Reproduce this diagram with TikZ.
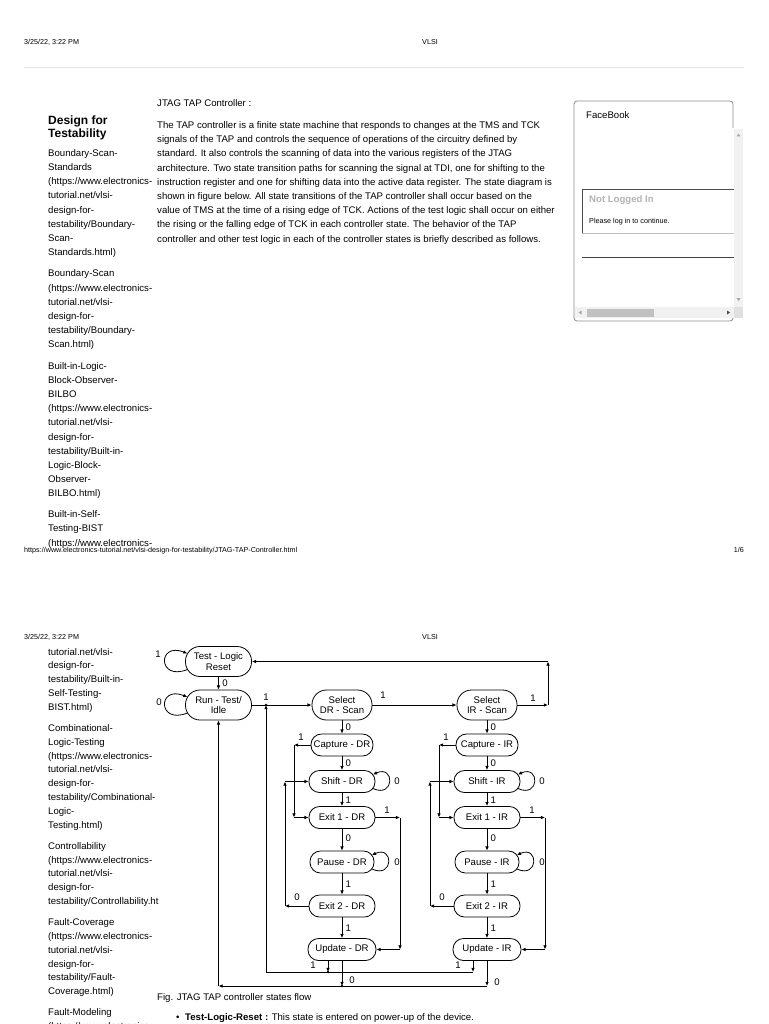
\documentclass[tikz,border=0pt]{standalone}
\usepackage{fontspec}
\setmainfont{Liberation Sans}
\usetikzlibrary{arrows.meta,positioning}
\definecolor{RuleGray}{HTML}{E6E6E6}
\definecolor{BoxGray}{HTML}{8C8C8C}
\definecolor{BarGray}{HTML}{F1F1F1}
\definecolor{ThumbGray}{HTML}{C1C1C1}
\definecolor{MutedGray}{HTML}{B3B3B3}

\newcommand\bodyfont{\fontsize{9.6}{14.2}\selectfont}
\newcommand\diagfont{\fontsize{9.6}{10.4}\selectfont}
\newcommand\printfont{\fontsize{7.2}{8}\selectfont}

\tikzset{
  sidetext/.style={anchor=base west, inner sep=0, font=\bodyfont},
  printtext/.style={anchor=base west, inner sep=0, font=\printfont},
  tapstate/.style={draw, line width=0.8pt, rounded corners=10.5pt, minimum height=22, inner sep=1, font=\diagfont},
  bigstate/.style={tapstate, rounded corners=14.5pt, minimum height=30, align=center},
  arr/.style={line width=0.8pt, -{Latex[length=4.2pt,width=3.6pt]}},
  wire/.style={line width=0.8pt},
  lbl/.style={font=\diagfont, inner sep=0},
}

\begin{document}
\begin{tikzpicture}[x=1pt, y=1pt]
  \useasboundingbox[fill=white] (0,0) rectangle (768,-1024);

  % page 1: print header
  \node[printtext] (date1) at (24,-44.5) {3/25/22, 3:22 PM};
  \node[printtext, anchor=base] (title1) at (430,-44.5) {VLSI};
  \draw[RuleGray, line width=0.8pt] (24,-67) -- (744,-67);

  % page 1: sidebar
  \node[sidetext, font=\bfseries\fontsize{12}{13.6}\selectfont] (dft1) at (48,-124.3) {Design for};
  \node[sidetext, font=\bfseries\fontsize{12}{13.6}\selectfont] (dft2) at (48,-138) {Testability};
  \foreach \txt [count=\i from 0] in {{Boundary-Scan-}, {Standards}, {(https://www.electronics-}, {tutorial.net/vlsi-}, {design-for-}, {testability/Boundary-}, {Scan-}, {Standards.html)}}
    \node[sidetext] (sba\i) at (48,-156.3-14.2*\i) {\txt};
  \foreach \txt [count=\i from 0] in {{Boundary-Scan}, {(https://www.electronics-}, {tutorial.net/vlsi-}, {design-for-}, {testability/Boundary-}, {Scan.html)}}
    \node[sidetext] (sbb\i) at (48,-276.9-14.2*\i) {\txt};
  \foreach \txt [count=\i from 0] in {{Built-in-Logic-}, {Block-Observer-}, {BILBO}, {(https://www.electronics-}, {tutorial.net/vlsi-}, {design-for-}, {testability/Built-in-}, {Logic-Block-}, {Observer-}, {BILBO.html)}}
    \node[sidetext] (sbc\i) at (48,-369.1-14.2*\i) {\txt};
  \foreach \txt [count=\i from 0] in {{Built-in-Self-}, {Testing-BIST}, {(https://www.electronics-}}
    \node[sidetext] (sbd\i) at (48,-517.6-14.2*\i) {\txt};

  % page 1: article text
  \node[sidetext] (jtag) at (157,-106.3) {JTAG TAP Controller :};
  \foreach \txt [count=\i from 0] in {
    {The TAP controller is a finite state machine that responds to changes at the TMS and TCK},
    {signals of the TAP and controls the sequence of operations of the circuitry defined by},
    {standard. It also controls the scanning of data into the various registers of the JTAG},
    {architecture. Two state transition paths for scanning the signal at TDI, one for shifting to the},
    {instruction register and one for shifting data into the active data register. The state diagram is},
    {shown in figure below. All state transitions of the TAP controller shall occur based on the},
    {value of TMS at the time of a rising edge of TCK. Actions of the test logic shall occur on either},
    {the rising or the falling edge of TCK in each controller state. The behavior of the TAP},
    {controller and other test logic in each of the controller states is briefly described as follows.}}
    \node[sidetext] (para\i) at (157,-128.5-14.2*\i) {\txt};

  % page 1: facebook widget
  \draw[BoxGray, line width=0.8pt, rounded corners=3pt] (733,-128) -- (733,-101) -- (574,-101) -- (574,-321) -- (733,-321) -- (733,-318);
  \node[sidetext] (fbtitle) at (586,-118.3) {FaceBook};
  \draw[line width=0.8pt, black!70] (735,-189) -- (582,-189) -- (582,-233);
  \draw[line width=0.6pt, black!25] (582,-233) -- (735,-233);
  \node[sidetext, font=\bfseries\bodyfont, text=MutedGray] (notlogged) at (589,-202.5) {Not Logged In};
  \node[printtext] (pleaselog) at (589,-223.5) {Please log in to continue.};
  \draw[line width=0.8pt, black!75] (582,-257) -- (735,-257);
  \fill[BarGray] (734,-129) rectangle (743,-307);
  \fill[BarGray] (575,-307) rectangle (734,-318);
  \fill[black!12] (734,-307) rectangle (743,-318);
  \fill[ThumbGray] (587,-308.5) rectangle (654,-316.5);
  \fill[black!35] (736.5,-136.5) -- (740.5,-136.5) -- (738.5,-133.5) -- cycle;
  \fill[black!35] (736.5,-298) -- (740.5,-298) -- (738.5,-301) -- cycle;
  \fill[black!35] (581.5,-310.5) -- (581.5,-314.5) -- (578.5,-312.5) -- cycle;
  \fill[black!70] (727,-310.5) -- (727,-314.5) -- (730,-312.5) -- cycle;

  % page 1: print footer
  \node[printtext] (url1) at (24,-552) {https://www.electronics-tutorial.net/vlsi-design-for-testability/JTAG-TAP-Controller.html};
  \node[printtext, anchor=base east] (pg1) at (744,-552) {1/6};

  % page 2: print header
  \node[printtext] (date2) at (24,-639.5) {3/25/22, 3:22 PM};
  \node[printtext, anchor=base] (title2) at (430,-639.5) {VLSI};

  % page 2: sidebar
  \foreach \txt [count=\i from 0] in {{tutorial.net/vlsi-}, {design-for-}, {testability/Built-in-}, {Self-Testing-}, {BIST.html)}}
    \node[sidetext] (sbe\i) at (48,-655-13.9*\i) {\txt};
  \foreach \txt [count=\i from 0] in {{Combinational-}, {Logic-Testing}, {(https://www.electronics-}, {tutorial.net/vlsi-}, {design-for-}, {testability/Combinational-}, {Logic-}, {Testing.html)}}
    \node[sidetext] (sbf\i) at (48,-731.2-13.9*\i) {\txt};
  \foreach \txt [count=\i from 0] in {{Controllability}, {(https://www.electronics-}, {tutorial.net/vlsi-}, {design-for-}, {testability/Controllability.ht}}
    \node[sidetext] (sbg\i) at (48,-849.1-13.9*\i) {\txt};
  \foreach \txt [count=\i from 0] in {{Fault-Coverage}, {(https://www.electronics-}, {tutorial.net/vlsi-}, {design-for-}, {testability/Fault-}, {Coverage.html)}}
    \node[sidetext] (sbh\i) at (48,-925.3-13.9*\i) {\txt};
  \foreach \txt [count=\i from 0] in {{Fault-Modeling}, {(https://www.electronics-}}
    \node[sidetext] (sbk\i) at (48,-1015.4-13.9*\i) {\txt};

  % page 2: TAP state diagram
  \node[bigstate, minimum width=66] (tlr) at (218.5,-661.5) {Test - Logic\\Reset};
  \node[bigstate, minimum width=66] (rti) at (218.5,-705) {Run - Test/\\Idle};
  \node[bigstate, minimum width=60] (seldr) at (342,-705) {Select\\DR - Scan};
  \node[tapstate, minimum width=62] (capdr) at (342,-745) {Capture - DR};
  \node[tapstate, minimum width=66] (shdr) at (342,-781.5) {Shift - DR};
  \node[tapstate, minimum width=66] (ex1dr) at (342,-817.5) {Exit 1 - DR};
  \node[tapstate, minimum width=64] (padr) at (342,-862) {Pause - DR};
  \node[tapstate, minimum width=66] (ex2dr) at (342,-906) {Exit 2 - DR};
  \node[tapstate, minimum width=68] (updr) at (342,-949.5) {Update - DR};
  \node[bigstate, minimum width=60] (selir) at (487,-705) {Select\\IR - Scan};
  \node[tapstate, minimum width=62] (capir) at (487,-745) {Capture - IR};
  \node[tapstate, minimum width=66] (shir) at (487,-781.5) {Shift - IR};
  \node[tapstate, minimum width=66] (ex1ir) at (487,-817.5) {Exit 1 - IR};
  \node[tapstate, minimum width=64] (pair) at (487,-862) {Pause - IR};
  \node[tapstate, minimum width=66] (ex2ir) at (487,-906) {Exit 2 - IR};
  \node[tapstate, minimum width=68] (upir) at (487,-949.5) {Update - IR};

  % corner points of the wires
  \coordinate (irtop1) at (548,-705);
  \coordinate (irtop2) at (548,-661.5);
  \coordinate (jn) at (266,-705);
  \coordinate (capdrL) at (294,-745);
  \coordinate (ex1drL) at (294,-817.5);
  \coordinate (ex2drL) at (285,-906);
  \coordinate (shdrL) at (285,-781.5);
  \coordinate (ex1drR) at (400,-817.5);
  \coordinate (updrR) at (400,-949.5);
  \coordinate (capirL) at (439,-745);
  \coordinate (ex1irL) at (439,-817.5);
  \coordinate (ex2irL) at (430,-906);
  \coordinate (shirL) at (430,-781.5);
  \coordinate (ex1irR) at (545,-817.5);
  \coordinate (upirR) at (545,-949.5);
  \coordinate (dr1) at (328,-972);
  \coordinate (ir1) at (473,-972);
  \coordinate (back1) at (266,-972);
  \coordinate (dr0) at (342,-986);
  \coordinate (ir0) at (487,-986);
  \coordinate (back0) at (218.5,-986);

  % self loops
  \draw[arr] ([xshift=2.3pt,yshift=-8pt]tlr.west) .. controls +(-30,-12) and +(-30,12) .. ([xshift=2.3pt,yshift=8pt]tlr.west);
  \draw[arr] ([xshift=2.3pt,yshift=-8pt]rti.west) .. controls +(-30,-12) and +(-30,12) .. ([xshift=2.3pt,yshift=8pt]rti.west);
  \foreach \s in {shdr, padr, shir, pair}
    \draw[arr] ([xshift=-2.5pt,yshift=-7pt]\s.east) .. controls +(22,-10) and +(22,10) .. ([xshift=-2.5pt,yshift=7pt]\s.east);

  % main transitions
  \draw[arr] (tlr) -- (rti);
  \draw[arr] (rti) -- (seldr);
  \draw[arr] (seldr) -- (selir);
  \draw[arr] (selir) -- (irtop1);
  \draw[arr] (irtop1) -- (irtop2);
  \draw[arr] (irtop2) -- (tlr);
  \draw[arr] (seldr) -- (capdr);
  \draw[arr] (capdr) -- (shdr);
  \draw[arr] (shdr) -- (ex1dr);
  \draw[arr] (ex1dr) -- (padr);
  \draw[arr] (padr) -- (ex2dr);
  \draw[arr] (ex2dr) -- (updr);
  \draw[arr] (selir) -- (capir);
  \draw[arr] (capir) -- (shir);
  \draw[arr] (shir) -- (ex1ir);
  \draw[arr] (ex1ir) -- (pair);
  \draw[arr] (pair) -- (ex2ir);
  \draw[arr] (ex2ir) -- (upir);

  % side paths
  \draw[arr] (capdr) -- (capdrL);
  \draw[arr] (capdrL) -- (ex1drL);
  \draw[arr] (ex1drL) -- (ex1dr);
  \draw[arr] (ex2dr) -- (ex2drL);
  \draw[arr] (ex2drL) -- (shdrL);
  \draw[arr] (shdrL) -- (shdr);
  \draw[arr] (ex1dr) -- (ex1drR);
  \draw[arr] (ex1drR) -- (updrR);
  \draw[arr] (updrR) -- (updr);
  \draw[arr] (capir) -- (capirL);
  \draw[arr] (capirL) -- (ex1irL);
  \draw[arr] (ex1irL) -- (ex1ir);
  \draw[arr] (ex2ir) -- (ex2irL);
  \draw[arr] (ex2irL) -- (shirL);
  \draw[arr] (shirL) -- (shir);
  \draw[arr] (ex1ir) -- (ex1irR);
  \draw[arr] (ex1irR) -- (upirR);
  \draw[arr] (upirR) -- (upir);

  % return paths from the update states
  \draw[arr] (updr.south -| dr1) -- (dr1);
  \draw[arr] (upir.south -| ir1) -- (ir1);
  \draw[wire] (ir1) -- (back1);
  \draw[arr] (back1) -- (jn);
  \draw[arr] (updr) -- (dr0);
  \draw[arr] (upir) -- (ir0);
  \draw[arr] (ir0) -- (back0);
  \draw[arr] (back0) -- (rti);
  \fill (jn) circle (1.4pt);
  \fill (dr1) circle (1.4pt);
  \fill (dr0) circle (1.4pt);

  % transition labels
  \node[lbl] (l1) at (158,-654) {1};
  \node[lbl] (l2) at (159,-702) {0};
  \node[lbl] (l3) at (225,-683) {0};
  \node[lbl] (l4) at (266,-697) {1};
  \node[lbl] (l5) at (383,-695) {1};
  \node[lbl] (l6) at (533,-698) {1};
  \foreach \cx/\cn in {342/d, 487/i} {
    \node[lbl, anchor=west] (a\cn1) at (\cx+3.5,-727) {0};
    \node[lbl, anchor=west] (a\cn2) at (\cx+3.5,-763.5) {0};
    \node[lbl, anchor=west] (a\cn3) at (\cx+3.5,-800) {1};
    \node[lbl, anchor=west] (a\cn4) at (\cx+3.5,-838) {0};
    \node[lbl, anchor=west] (a\cn5) at (\cx+3.5,-884) {1};
    \node[lbl, anchor=west] (a\cn6) at (\cx+3.5,-928) {1};
    \node[lbl] (b\cn1) at (\cx-41,-737) {1};
    \node[lbl] (b\cn2) at (\cx-45,-897) {0};
    \node[lbl] (b\cn3) at (\cx+45,-810) {1};
    \node[lbl] (b\cn4) at (\cx+55,-781.5) {0};
    \node[lbl] (b\cn5) at (\cx+55,-862) {0};
  }
  \node[lbl] (l7) at (313,-965) {1};
  \node[lbl] (l8) at (458,-965) {1};
  \node[lbl] (l9) at (352,-980) {0};
  \node[lbl] (l10) at (497,-982) {0};

  % page 2: caption and first state description
  \node[sidetext] (figcap) at (157,-1000.3) {Fig. JTAG TAP controller states flow};
  \node[sidetext] (bullet) at (176,-1020.3) {•};
  \node[sidetext] (tlrtext) at (185,-1020.3) {\textbf{Test-Logic-Reset :} This state is entered on power-up of the device.};
\end{tikzpicture}
\end{document}
